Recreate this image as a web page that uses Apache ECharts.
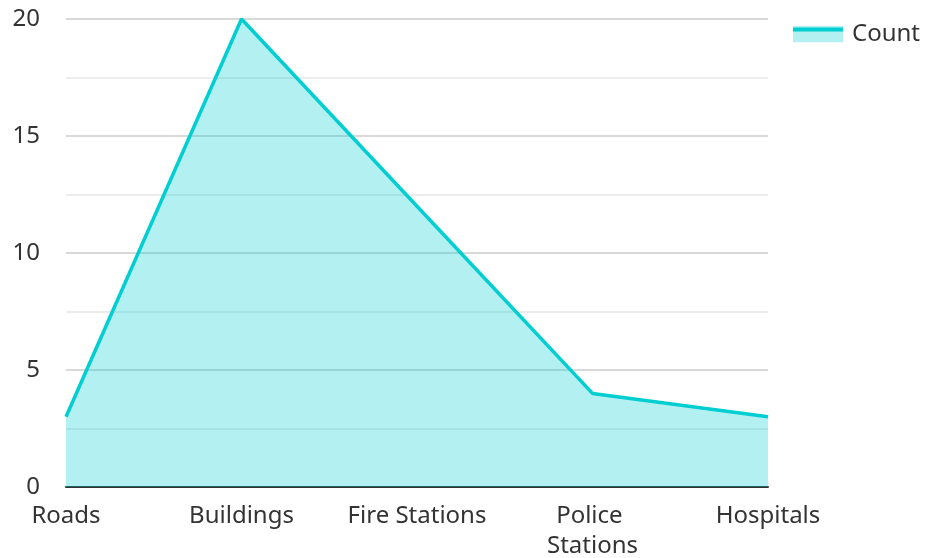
<!DOCTYPE html>
<html>
<head>
<meta charset="utf-8">
<style>
  html, body { margin: 0; padding: 0; background: #fff; }
  #chart { width: 926px; height: 558px; }
</style>
<script src="https://cdn.jsdelivr.net/npm/echarts@6/dist/echarts.min.js"></script>
</head>
<body>
<div id="chart"></div>
<script>
const categories = ['Roads', 'Buildings', 'Fire Stations', 'Police Stations', 'Hospitals'];
const counts = [3, 20, 12, 4, 3];
const seriesName = 'Count';

const chart = echarts.init(document.getElementById('chart'));
const font = '"Noto Sans", "Open Sans", sans-serif';

// legend swatch: pale area with the line along its top edge
const legendIcon = 'image://data:image/svg+xml;utf8,' + encodeURIComponent(
    '<svg xmlns="http://www.w3.org/2000/svg" width="50" height="17">' +
    '<rect x="0" y="0" width="50" height="17" fill="#b2f0f1"/>' +
    '<rect x="0" y="2" width="50" height="4" fill="#00CED1"/></svg>'
);

chart.setOption({
    textStyle: { fontFamily: font },
    animation: false,
    legend: {
        right: 1,
        top: 17,
        itemWidth: 50,
        itemHeight: 17,
        itemGap: 10,
        icon: legendIcon,
        textStyle: { fontSize: 24, color: '#333', fontFamily: font, padding: [0, 0, 0, 4] },
        data: [seriesName]
    },
    grid: { left: 66, right: 158, top: 19, bottom: 71, outerBoundsMode: 'none', containLabel: false },
    xAxis: {
        type: 'category',
        boundaryGap: false,
        data: categories,
        axisTick: { show: false },
        axisLine: { lineStyle: { color: '#333', width: 2 } },
        axisLabel: {
            interval: 0,
            fontSize: 24,
            color: '#333',
            margin: 14,
            width: 160,
            overflow: 'break',
            lineHeight: 30
        }
    },
    yAxis: {
        type: 'value',
        min: 0,
        max: 20,
        interval: 5,
        axisLine: { show: false },
        axisTick: { show: false },
        axisLabel: { fontSize: 24, color: '#333', margin: 26 },
        splitLine: { lineStyle: { color: '#ccc', width: 1.5 } },
        minorTick: { show: false, splitNumber: 2 },
        minorSplitLine: { show: true, lineStyle: { color: '#e6e6e6', width: 1.5 } }
    },
    series: [{
        name: seriesName,
        type: 'line',
        data: counts,
        symbol: 'none',
        lineStyle: { color: '#00CED1', width: 3.5 },
        itemStyle: { color: '#00CED1' },
        areaStyle: { color: '#00CED1', opacity: 0.3 }
    }]
});
</script>
</body>
</html>
